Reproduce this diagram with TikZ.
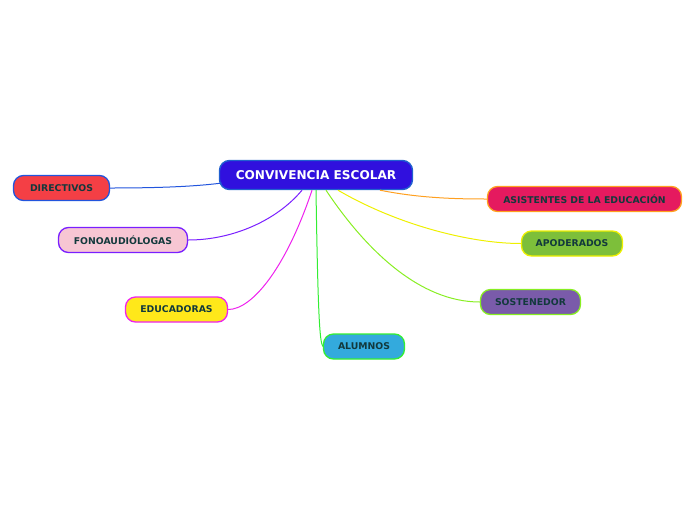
\documentclass[tikz,border=0pt]{standalone}
\usepackage{fontspec}
\setmainfont{DejaVu Sans}
\usetikzlibrary{positioning}

\definecolor{textdark}{HTML}{12393C}
\definecolor{convfill}{HTML}{3010DE}
\definecolor{convline}{HTML}{2060D0}

\begin{document}
\begin{tikzpicture}[
  x=1pt, y=-1pt,
  main/.style = {draw=convline, fill=convfill, line width=1.4pt, rounded corners=10pt, minimum height=29pt, minimum width=193pt, align=center, text=white, font=\fontsize{12.1}{14}\selectfont\bfseries},
  topic/.style = {line width=1.3pt, rounded corners=10pt, minimum height=25pt, align=center, text=textdark, font=\fontsize{9.3}{11}\selectfont\bfseries},
  conn/.style = {line width=1pt}
]
\useasboundingbox (0,0) rectangle (696,520);

\node[main] (conv) at (316,175) {CONVIVENCIA ESCOLAR};

\node[topic, draw={rgb,255:red,34;green,85;blue,221}, fill={rgb,255:red,244;green,63;blue,69}, minimum width=96pt] (dir) at (61.5,188) {DIRECTIVOS};
\node[topic, draw={rgb,255:red,122;green,31;blue,255}, fill={rgb,255:red,247;green,198;blue,211}, minimum width=129pt] (fono) at (123,240) {FONOAUDIÓLOGAS};
\node[topic, draw={rgb,255:red,238;green,34;blue,238}, fill={rgb,255:red,255;green,232;blue,26}, minimum width=102pt] (edu) at (176.5,309.5) {EDUCADORAS};
\node[topic, draw={rgb,255:red,51;green,238;blue,51}, fill={rgb,255:red,51;green,170;blue,221}, minimum width=81pt] (alum) at (364,346.5) {ALUMNOS};
\node[topic, draw={rgb,255:red,255;green,160;blue,32}, fill={rgb,255:red,229;green,26;blue,95}, minimum width=194pt] (asis) at (584.5,199) {ASISTENTES DE LA EDUCACIÓN};
\node[topic, draw={rgb,255:red,238;green,240;blue,0}, fill={rgb,255:red,125;green,191;blue,58}, minimum width=101pt] (apod) at (572,243.5) {APODERADOS};
\node[topic, draw={rgb,255:red,136;green,238;blue,34}, fill={rgb,255:red,122;green,91;blue,170}, minimum width=100pt] (sost) at (530.5,302) {SOSTENEDOR};

% branches
\draw[conn, draw={rgb,255:red,34;green,85;blue,221}] ([xshift=3pt,yshift=-8pt]conv.west) .. controls +(-30,4) and +(40,0) .. (dir.east);
\draw[conn, draw={rgb,255:red,122;green,31;blue,255}] ([xshift=-14pt]conv.south) .. controls +(-25,30) and +(45,0) .. (fono.east);
\draw[conn, draw={rgb,255:red,238;green,34;blue,238}] ([xshift=-4pt]conv.south) .. controls +(-25,75) and +(25,0) .. (edu.east);
\draw[conn, draw={rgb,255:red,51;green,238;blue,51}] (conv.south) .. controls +(2,130) and +(-3,-5) .. (alum.west);
\draw[conn, draw={rgb,255:red,136;green,238;blue,34}] ([xshift=10pt]conv.south) .. controls +(40,60) and +(-60,0) .. (sost.west);
\draw[conn, draw={rgb,255:red,238;green,240;blue,0}] ([xshift=22pt]conv.south) .. controls +(60,35) and +(-50,0) .. (apod.west);
\draw[conn, draw={rgb,255:red,255;green,160;blue,32}] ([xshift=64pt]conv.south) .. controls +(40,8) and +(-30,0) .. (asis.west);
\end{tikzpicture}
\end{document}
